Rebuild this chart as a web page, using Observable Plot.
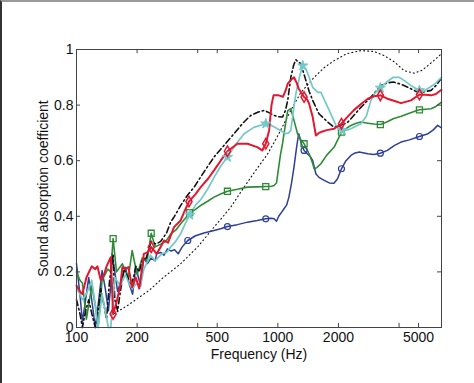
<!DOCTYPE html>
<html>
<head>
<meta charset="utf-8">
<script src="https://cdn.jsdelivr.net/npm/d3@7"></script>
<script src="https://cdn.jsdelivr.net/npm/@observablehq/plot@0.6"></script>
<style>
  html, body { margin: 0; padding: 0; background: #fff; }
  #wrap { width: 472px; height: 381px; border-top: 2px solid #9a9a9a; border-left: 2px solid #333; background: #fff; }
  svg { display: block; }
</style>
</head>
<body>
<div id="wrap"></div>
<script>
// ---- tick labels ----
const xLabelTicks = [100, 200, 500, 1000, 2000, 5000];
const xMinorTicks = [100, 200, 400, 500, 1000, 2000, 4000, 5000];
const yTicks = [0, 0.2, 0.4, 0.6, 0.8, 1];
const xTitle = "Frequency (Hz)";
const yTitle = "Sound absorption coefficient";

// ---- series (frequency in Hz, absorption coefficient) ----
const blueFreq = [100,104,107,111,115,120,124,129,134,139,144,148,150,155,160,167,175,182,190,197,203,208,216,225,235,246,250,262,272,283,295,307,320,335,357,390,430,482,520,562,630,707,790,871,930,958,985,1010,1045,1073,1105,1135,1170,1203,1240,1270,1310,1350,1400,1450,1490,1545,1600,1700,1800,1900,1980,2070,2180,2307,2420,2540,2680,2800,3000,3230,3500,3800,4091,4500,5050,5570,5900,6220,6500];
const blueAlpha = [0.23,0.12,0.02,0.10,0.18,0.08,0.0,0.10,0.205,0.14,0.06,0.15,0.265,0.2,0.13,0.17,0.217,0.16,0.12,0.22,0.18,0.15,0.25,0.23,0.25,0.24,0.265,0.27,0.26,0.283,0.275,0.28,0.265,0.29,0.313,0.33,0.34,0.349,0.355,0.363,0.37,0.379,0.385,0.391,0.393,0.391,0.382,0.40,0.415,0.427,0.44,0.469,0.52,0.577,0.65,0.697,0.66,0.637,0.625,0.615,0.60,0.553,0.54,0.529,0.52,0.519,0.535,0.571,0.60,0.619,0.628,0.631,0.628,0.625,0.622,0.627,0.637,0.655,0.667,0.675,0.687,0.697,0.71,0.727,0.718];
const blueMarks = [357,562,871,1350,2070,3230,5050];

const greenFreq = [100,104,107,112,119,124,128,134,143,148,152,158,169,181,189,200,212,224,235,246,262,278,294,311,329,345,365,390,414,450,482,520,562,630,707,790,871,930,958,985,1010,1030,1055,1090,1120,1160,1203,1253,1300,1350,1430,1490,1515,1560,1636,1750,1905,2000,2070,2180,2307,2450,2587,2800,3000,3230,3500,3740,4100,4430,4750,5050,5400,5770,6100,6500];
const greenAlpha = [0.2,0.17,0.16,0.03,0.15,0.08,0.0,0.17,0.21,0.2,0.32,0.2,0.229,0.18,0.277,0.19,0.25,0.24,0.339,0.29,0.30,0.31,0.337,0.35,0.373,0.39,0.413,0.425,0.439,0.455,0.469,0.48,0.49,0.497,0.505,0.506,0.507,0.508,0.511,0.52,0.577,0.62,0.661,0.73,0.78,0.787,0.745,0.697,0.675,0.661,0.625,0.59,0.571,0.575,0.589,0.62,0.649,0.68,0.703,0.715,0.727,0.735,0.739,0.735,0.732,0.730,0.74,0.751,0.76,0.769,0.777,0.783,0.785,0.787,0.795,0.811];
const greenMarks = [152,235,365,562,871,1350,2070,3230,5050];

const redFreq = [100,104,107,112,119,124,127,132,137,141,148,152,158,165,169,175,181,189,197,205,216,225,235,250,262,272,285,305,329,345,362,390,414,450,482,520,562,630,707,790,837,871,905,930,952,980,1010,1060,1090,1120,1160,1203,1240,1270,1350,1400,1430,1490,1545,1600,1636,1750,1905,2070,2200,2380,2600,2800,3000,3230,3500,3800,4091,4590,5050,5400,5770,6100,6500];
const redAlpha = [0.151,0.13,0.12,0.18,0.22,0.21,0.22,0.17,0.19,0.22,0.253,0.049,0.09,0.15,0.217,0.21,0.217,0.145,0.18,0.14,0.265,0.27,0.289,0.265,0.29,0.313,0.305,0.361,0.385,0.42,0.453,0.48,0.505,0.535,0.565,0.60,0.634,0.661,0.661,0.649,0.637,0.661,0.709,0.80,0.835,0.835,0.835,0.83,0.85,0.877,0.89,0.90,0.88,0.859,0.829,0.82,0.805,0.757,0.691,0.70,0.703,0.71,0.715,0.733,0.755,0.781,0.805,0.823,0.832,0.835,0.823,0.815,0.807,0.817,0.838,0.837,0.835,0.84,0.855];
const redMarks = [152,235,362,562,871,1350,2070,3230,5050];

const cyanFreq = [100,104,107,112,119,124,128,134,139,144,148,155,165,175,182,189,200,208,216,233,246,265,280,294,311,329,345,365,390,414,450,482,520,562,620,680,760,871,930,995,1050,1096,1130,1160,1195,1229,1280,1330,1380,1430,1490,1580,1636,1700,1800,1943,2090,2200,2307,2450,2587,2750,2901,3050,3230,3500,3740,4000,4233,4600,5050,5300,5560,6000,6500];
const cyanAlpha = [0.14,0.12,0.10,0.12,0.17,0.08,0.0,0.12,0.06,0.0,0.0,0.18,0.15,0.19,0.16,0.14,0.16,0.15,0.21,0.26,0.24,0.265,0.27,0.29,0.31,0.337,0.37,0.405,0.44,0.46,0.50,0.54,0.58,0.613,0.66,0.697,0.72,0.733,0.727,0.715,0.705,0.697,0.70,0.709,0.78,0.841,0.90,0.942,0.93,0.90,0.864,0.846,0.846,0.82,0.781,0.727,0.709,0.71,0.715,0.725,0.733,0.76,0.817,0.845,0.862,0.885,0.90,0.90,0.889,0.87,0.853,0.85,0.86,0.875,0.90];
const cyanMarks = [365,562,871,1330,2090,3230,5050];

const dashFreq = [100,104,107,111,115,120,124,128,132,137,141,146,152,155,160,166,172,180,186,192,197,205,212,222,235,248,262,280,294,305,330,355,384,430,482,540,606,670,734,800,855,910,958,1010,1055,1090,1120,1160,1200,1229,1265,1301,1378,1430,1490,1600,1770,1905,2050,2230,2400,2587,2901,3253,3500,3740,4100,4430,4960,5350,5770,6100,6500];
const dashAlpha = [0.10,0.05,0.0,0.06,0.10,0.04,0.0,0.06,0.14,0.08,0.03,0.17,0.26,0.1,0.06,0.14,0.21,0.18,0.15,0.18,0.22,0.2,0.24,0.25,0.31,0.3,0.31,0.34,0.38,0.397,0.44,0.475,0.505,0.56,0.613,0.655,0.697,0.735,0.763,0.775,0.781,0.772,0.763,0.758,0.757,0.78,0.817,0.90,0.945,0.963,0.955,0.949,0.889,0.85,0.817,0.769,0.739,0.72,0.725,0.739,0.765,0.792,0.829,0.871,0.88,0.883,0.875,0.864,0.846,0.848,0.853,0.87,0.897];

const dotFreq = [153,180,229,270,329,400,482,580,680,780,889,1000,1160,1300,1515,1700,1905,2200,2584,3000,3372,3800,4233,4753,5200,5560,6000,6500];
const dotAlpha = [0.049,0.08,0.133,0.18,0.229,0.29,0.361,0.43,0.505,0.567,0.624,0.69,0.781,0.845,0.90,0.935,0.96,0.985,0.996,0.993,0.978,0.955,0.924,0.915,0.925,0.942,0.962,0.985];

function zip(name, f, a) {
  if (f.length !== a.length) throw new Error(name + " length mismatch " + f.length + " vs " + a.length);
  return f.map((v, i) => ({f: v, a: a[i]}));
}
const blue = zip("blue", blueFreq, blueAlpha);
const green = zip("green", greenFreq, greenAlpha);
const red = zip("red", redFreq, redAlpha);
const cyan = zip("cyan", cyanFreq, cyanAlpha);
const dash = zip("dash", dashFreq, dashAlpha);
const dot = zip("dot", dotFreq, dotAlpha);
for (const [n, s, m] of [["blue", blue, blueMarks], ["green", green, greenMarks], ["red", red, redMarks], ["cyan", cyan, cyanMarks]]) {
  for (const v of m) if (!s.some(d => d.f === v)) throw new Error(n + " missing marker " + v);
}

const C = {blue: "#2d3f96", green: "#2f8a36", red: "#e2172f", cyan: "#74c8c8", black: "#111"};
const xMax = 6500;

const chart = Plot.plot({
  width: 472,
  height: 381,
  marginLeft: 74,
  marginRight: 33,
  marginTop: 47,
  marginBottom: 56,
  style: {fontFamily: "'Liberation Sans', Arial, sans-serif", fontSize: "14px", background: "#fff", color: "#111"},
  x: {type: "log", domain: [100, xMax], axis: null},
  y: {domain: [0, 1], axis: null},
  marks: [
    // lines
    Plot.line(dot, {x: "f", y: "a", stroke: C.black, strokeWidth: 1.1, strokeDasharray: "1,3"}),
    Plot.line(blue, {x: "f", y: "a", stroke: C.blue, strokeWidth: 1.5}),
    Plot.line(green, {x: "f", y: "a", stroke: C.green, strokeWidth: 1.6}),
    Plot.line(dash, {x: "f", y: "a", stroke: C.black, strokeWidth: 1.6, strokeDasharray: "6,3,1.5,3"}),
    Plot.line(cyan, {x: "f", y: "a", stroke: C.cyan, strokeWidth: 1.7}),
    Plot.line(red, {x: "f", y: "a", stroke: C.red, strokeWidth: 2}),
    // markers
    Plot.dot(blue.filter(d => blueMarks.includes(d.f)), {x: "f", y: "a", symbol: "circle", r: 3, stroke: C.blue, fill: "none", strokeWidth: 1.2}),
    Plot.dot(green.filter(d => greenMarks.includes(d.f)), {x: "f", y: "a", symbol: "square", r: 3.4, stroke: C.green, fill: "none", strokeWidth: 1.3}),
    Plot.dot(cyan.filter(d => cyanMarks.includes(d.f)), {x: "f", y: "a", symbol: "star", r: 3.2, stroke: C.cyan, fill: C.cyan, strokeWidth: 1}),
    Plot.dot(red.filter(d => redMarks.includes(d.f)), {x: "f", y: "a", symbol: "diamond", r: 3.2, stroke: C.red, fill: "none", strokeWidth: 1.5}),
    // frame and inward ticks
    Plot.frame({stroke: "#444", strokeWidth: 1}),
    Plot.ruleX(xMinorTicks, {x: d => d, y1: 0, y2: 0.015, stroke: "#444"}),
    Plot.ruleX(xMinorTicks, {x: d => d, y1: 1, y2: 0.985, stroke: "#444"}),
    Plot.ruleY(yTicks, {y: d => d, x1: 100, x2: 104.7, stroke: "#444"}),
    Plot.ruleY(yTicks, {y: d => d, x1: xMax, x2: xMax / 1.047, stroke: "#444"}),
    // tick labels
    Plot.text(xLabelTicks, {x: d => d, frameAnchor: "bottom", dy: 10, lineAnchor: "middle", textAnchor: "middle", text: d => String(d), fontSize: 14, fill: "#111"}),
    Plot.text(yTicks, {y: d => d, frameAnchor: "left", dx: -3, textAnchor: "end", lineAnchor: "middle", text: d => d === 0 ? "0" : d === 1 ? "1" : d.toFixed(1), fontSize: 14, fill: "#111"}),
    // axis titles
    Plot.text([xTitle], {frameAnchor: "bottom", dy: 27, lineAnchor: "middle", textAnchor: "middle", text: d => d, fontSize: 14, fill: "#111"}),
    Plot.text([yTitle], {frameAnchor: "left", dx: -33, rotate: -90, textAnchor: "middle", lineAnchor: "middle", text: d => d, fontSize: 14, fill: "#111"})
  ]
});
document.getElementById("wrap").appendChild(chart);
// sanity check: every x tick label must be present
const texts = Array.from(chart.querySelectorAll("text")).map(t => t.textContent);
for (const v of xLabelTicks) if (!texts.includes(String(v))) throw new Error("missing x label " + v);
</script>
</body>
</html>
